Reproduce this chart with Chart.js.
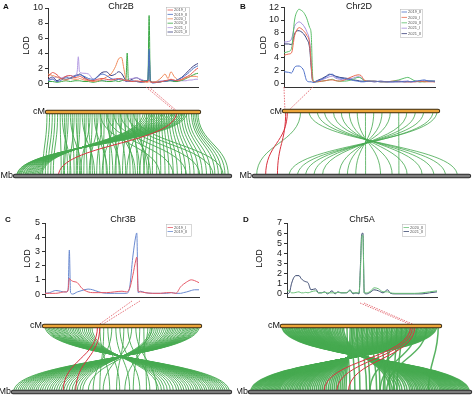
<!DOCTYPE html>
<html>
<head>
<meta charset="utf-8">
<script src="https://cdn.jsdelivr.net/npm/chart.js@4.4.1/dist/chart.umd.min.js"></script>
<style>
  body { margin: 0; background: #fff; }
  #wrap { position: relative; width: 474px; height: 397px; overflow: hidden; }
  canvas { position: absolute; }
</style>
</head>
<body>
<div id="wrap"></div>
<script>
// ---------- LOD profiles (x = position along chromosome, % of axis) ----------
const posA = [0,3,6,9,12,15,18,19.5,20.2,21,24,27,30,33,36,39,42,45,47,49,50.5,52,52.8,53.6,56,59,62,65,66.6,67.4,68.2,70,73,76,78,80,82,84,86,88,90,92,94,96,98,100];
const lodA_2019I  = [0.8,1.4,1.1,0.6,0.9,1.0,0.7,0.8,0.8,0.9, 0.6,0.4,0.3,0.5,0.6,0.5,0.4,0.5,0.6,0.5, 0.4,0.3,0.3,0.3,0.2,0.3,0.2,0.2,0.2,0.4, 0.2,0.1,0.1,0.2,0.3,0.4,0.5,0.4,0.3,0.4, 0.6,0.8,1.0,1.3,1.7,2.0];
const lodA_2019II = [0.3,0.5,0.2,0.4,0.8,0.6,0.9,1.0,1.0,1.1, 0.9,0.6,0.5,0.8,1.2,1.0,0.6,0.4,0.5,0.6, 0.4,0.2,0.2,0.2,0.3,0.2,0.1,0.2,0.5,4.5, 0.3,0.0,0.1,0.2,0.2,0.3,0.4,0.3,0.4,0.6, 0.8,1.1,1.4,1.8,2.1,2.3];
const lodA_2020I  = [1.2,1.0,0.8,0.5,0.4,0.6,0.5,0.5,0.5,0.6, 0.4,0.3,0.2,0.3,0.5,0.8,1.2,2.2,3.2,3.4, 2.0,0.5,0.4,0.3,0.2,0.2,0.1,0.1,0.1,0.2, 0.1,0.1,0.3,0.8,1.2,0.6,1.5,0.9,0.5,0.4, 0.5,0.7,0.8,0.9,0.9,0.8];
const lodA_2020II = [0.2,0.2,0.1,0.2,0.3,0.2,0.3,0.3,0.3,0.3, 0.2,0.2,0.1,0.2,0.3,0.2,0.2,0.3,0.2,0.3, 0.4,0.6,4.0,0.4,0.2,0.2,0.2,0.3,0.3,9.0, 0.4,0.1,0.1,0.2,0.2,0.3,0.3,0.2,0.2,0.3, 0.4,0.6,0.8,1.0,1.2,1.3];
const lodA_2021I  = [0.4,0.6,0.8,0.7,0.9,1.0,0.9,1.6,3.5,1.5, 1.3,1.2,0.5,0.4,0.3,0.4,0.5,0.6,0.5,0.4, 0.3,0.4,0.4,0.5,0.6,0.7,0.5,0.3,0.3,0.5, 0.2,0.1,0.2,0.3,0.2,0.3,0.3,0.2,0.2,0.3, 0.3,0.3,0.4,0.4,0.5,0.5];
const lodA_2021II = [0.5,0.8,0.3,0.6,0.5,0.7,1.0,1.1,1.1,1.2, 0.8,0.4,0.3,0.9,1.4,1.5,1.0,1.2,1.5,1.3, 0.8,0.4,0.4,0.3,0.5,0.7,0.4,0.3,0.3,4.2, 0.3,0.1,0.1,0.2,0.3,0.3,0.4,0.3,0.4,0.6, 0.9,1.3,1.7,2.1,2.4,2.6];

const posB = [0,3,5,7,9,10,11,13,15,17,18,19,20,22,25,28,30,32,34,37,40,43,46,49,51,53,56,60,64,68,72,76,80,82,84,87,90,93,96,100];
const lodB_2019II = [1.8,1.7,1.6,2.5,2.7,2.7,2.6,2.0,0.4,0.2, 0.2,0.1,0.1,0.3,0.6,1.0,1.3,1.4,1.0,0.8, 0.7,0.6,0.4,0.3,0.2,0.2,0.3,0.3,0.2,0.2, 0.2,0.3,0.2,0.3,0.2,0.3,0.4,0.5,0.3,0.3];
const lodB_2020I  = [4.4,4.6,4.8,7.5,8.6,8.8,8.7,8.3,7.6,6.2, 3.0,0.4,0.2,0.2,0.3,0.4,0.5,0.5,0.4,0.3, 0.5,0.8,1.1,1.3,1.2,0.5,0.3,0.3,0.2,0.2, 0.3,0.3,0.2,0.2,0.2,0.2,0.3,0.2,0.2,0.2];
const lodB_2020II = [4.8,5.0,5.5,10.0,11.5,11.7,11.6,11.2,10.3,8.8, 7.8,1.0,0.2,0.2,0.3,0.4,0.5,0.6,0.4,0.3, 0.3,0.4,0.6,0.9,0.8,0.4,0.3,0.3,0.2,0.2, 0.3,0.5,0.8,0.9,0.7,0.3,0.2,0.2,0.3,0.3];
const lodB_2021I  = [6.5,6.6,7.0,9.0,9.6,9.7,9.6,9.1,8.2,6.5, 3.5,0.5,0.2,0.3,0.5,0.8,1.0,1.1,0.8,0.6, 0.5,0.6,0.8,1.0,0.9,0.4,0.3,0.2,0.3,0.2, 0.2,0.2,0.3,0.3,0.2,0.2,0.3,0.4,0.4,0.3];
const lodB_2021II = [6.2,6.2,6.1,7.8,8.3,8.3,8.2,7.8,7.0,5.5, 2.5,0.3,0.2,0.4,0.7,1.1,1.4,1.3,1.1,0.9, 0.8,0.7,0.5,0.4,0.3,0.3,0.3,0.2,0.3,0.2, 0.2,0.2,0.2,0.2,0.2,0.3,0.2,0.3,0.3,0.2];

const posC = [0,3,7,10,12,14,15,15.8,16.6,18,21,24,28,31,35,40,45,50,53,55,57,59,59.6,60.5,62,65,70,75,79,82,85,88,90,92,95,97,100];
const lodC_2019I  = [0.05,0.05,0.05,0.1,0.15,0.15,0.3,1.1,1.0,0.9, 0.8,0.4,0.15,0.1,0.1,0.1,0.15,0.2,0.15,0.4, 1.3,2.4,2.6,0.2,0.15,0.1,0.05,0.05,0.1,0.1, 0.05,0.5,0.7,0.85,1.0,0.95,0.8];
const lodC_2019II = [0.05,0.1,0.25,0.2,0.15,0.15,0.3,3.1,0.1,0.0, 0.15,0.25,0.35,0.3,0.15,0.05,0.05,0.05,0.05,0.5, 2.6,4.1,4.3,0.1,0.2,0.1,0.05,0.05,0.05,0.1, 0.05,0.05,0.1,0.15,0.25,0.3,0.3];

const posD = [0,1.5,3,4.5,6,8,9.5,11,12.5,14,16,19,21,23,25,27,30,32,34,36,38,40,42,44,46,48,49,49.8,50.6,51.5,53,56,58,61,64,67,69,72,76,80,85,90,95,100];
const lodD_2020II = [0.3,0.3,0.1,0.1,0.15,0.2,0.1,0.1,0.15,0.1, 0.2,0.3,0.1,0.1,0.15,0.1,0.1,0.1,0.15,0.1, 0.1,0.15,0.3,0.1,0.1,0.1,2.5,5.6,5.8,0.1, 0.1,0.3,0.6,0.5,0.2,0.2,0.1,0.05,0.05,0.05, 0.05,0.1,0.2,0.3];
const lodD_2021II = [0.0,0.1,1.0,1.6,1.8,1.8,1.5,1.3,1.2,1.1, 0.4,0.5,0.1,0.1,0.2,0.0,0.3,0.0,0.2,0.1, 0.1,0.1,0.4,0.0,0.1,0.0,3.0,5.9,6.0,0.1, 0.0,0.2,0.4,0.3,0.1,0.4,0.05,0.0,0.0,0.0, 0.0,0.0,0.1,0.2];

const ticksA = [0,2,4,6,8,10];
const ticksB = [0,2,4,6,8,10,12];
const ticksC = [0,1,2,3,4,5];
const ticksD = [0,1,2,3,4,5,6,7];

// ---------- collinearity links (cM position % of genetic map, Mb position % of chromosome) ----------
const cmA = [0,1.7,3.5,5.2,7.0,
  8.7,11.4,14.0,16.6,19.2,21.8,24.5,27.1,29.7,32.3,34.9,37.6,40.2,42.8,45.4,48.0,50.7,53.3,55.9,58.5,61.1,
  10.0,12.7,15.3,17.9,20.5,23.1,25.8,28.4,31.0,33.6,36.2,38.9,41.5,44.1,46.7,49.3,52.0,54.6,57.2,59.8,
  63.3,65.9,68.6,71.2,73.8,76.4,79.0,81.7,84.3,86.9,89.5,92.1,
  64.6,67.2,69.9,72.5,75.1,77.7,80.3,83.0,85.6,88.2,90.8,
  65.5,68.8,72.1,75.3,78.6,81.9,85.2,88.4,91.7,95.0,97.2,99.3,
  67.2,70.3,73.6,76.9,80.1,83.4,86.7,90.0,93.2,96.1,98.3,
  34.9,39.3,43.7,48.0,52.4,56.8];
const mbA = [12.9,14.1,15.3,16.6,17.8,
  21.5,24.5,23.0,27.5,30.0,29.0,33.5,36.0,35.0,39.5,42.5,41.0,45.5,48.5,47.0,51.5,55.0,53.5,58.0,61.5,60.0,
  26.0,22.5,31.0,25.5,28.5,37.0,32.0,30.5,43.0,34.5,38.0,49.0,44.0,40.5,56.0,46.5,50.0,63.0,57.0,52.0,
  12.4,11.3,10.1,9.0,7.9,6.8,5.7,4.7,3.6,2.5,1.6,0.8,
  11.8,10.7,9.5,8.4,7.3,6.2,5.1,4.0,2.9,2.0,1.1,
  58.1,62.0,65.9,69.8,73.6,77.5,81.4,85.3,89.1,93.0,96.1,99.2,
  60.0,63.9,67.8,71.6,75.5,79.4,83.3,87.1,91.0,94.6,97.7,
  67.4,73.6,79.8,86.0,92.2,96.9];
const redCmA = [85.2], redMbA = [20.2];
const qtlLodA = [65.1, 67.1], qtlCmA = [84.9, 86.2];

const cmB = [10.8,16.2,21.6,26.3,32.0,37.1,42.3,47.5,52.9,58.3,63.7,69.1,74.5,79.9,85.3,90.7,96.8,99.4];
const mbB = [1.2,94.6,89.1,83.7,78.3,71.3,64.3,58.9,51.9,47.3,43.4,39.5,67.4,31.8,27.9,24.0,20.2,16.3];
const redCmB = [1.1, 2.2], redMbB = [10.9, 5.4];
const qtlLodB = [0, 18.8], qtlCmB = [0.6, 2.6];

const cmC = [0.6,2.4,4.1,5.8,7.5,9.2,10.9,12.6,14.3,16.5,18.6,20.8,22.9,25.5,28.1,30.6,
  1.5,3.2,4.9,6.6,8.4,10.1,11.8,13.5,15.4,17.6,19.7,21.8,24.2,26.8,29.3,
  99.6,97.9,96.1,94.4,92.7,91.0,89.3,87.2,85.0,82.9,80.7,78.6,76.0,73.4,70.9,68.3,
  98.7,97.0,95.3,93.6,91.9,90.1,88.2,86.1,83.9,81.8,79.7,77.3,74.7,72.2,69.6,
  35.8,38.3,40.9,43.5,46.0,48.6,51.2,53.7,56.3,58.8,61.4,64.0,66.6,69.2];
const mbC = [99.7,97.8,96.0,94.2,92.3,90.5,88.5,86.5,84.5,82.3,80.0,77.7,75.4,72.6,69.8,67.1,
  98.8,96.9,95.1,93.2,91.4,89.4,87.4,85.4,83.4,81.1,78.8,76.5,74.0,71.2,68.5,
  0.3,2.2,4.0,5.8,7.7,9.5,11.4,13.5,15.7,17.8,20.0,22.2,24.6,27.1,29.5,32.0,
  1.2,3.1,4.9,6.8,8.6,10.5,12.5,14.6,16.8,18.9,21.1,23.4,25.8,28.3,30.8,
  44.6,40.0,49.2,36.9,53.8,58.5,47.7,63.1,41.5,66.2,55.4,61.5,51.5,34.6];
const redCmC = [34.3, 35.8], redMbC = [23.1, 28.9];
const qtlLodC = [56.4, 61.5], qtlCmC = [34.0, 35.9];

const cmD = [97.9,96.2,94.5,92.8,91.2,89.5,87.8,86.1,84.4,82.7,81.1,79.4,77.7,76.0,74.3,72.6,70.5,68.4,66.3,64.2,62.1,60.0,57.9,55.8,53.7,51.6,49.5,47.4,45.3,43.2,
  97.1,95.4,93.7,92.0,90.3,88.6,86.9,85.3,83.6,81.9,80.2,78.5,76.8,75.2,73.5,71.6,69.5,67.4,65.3,63.2,61.1,58.9,56.8,54.7,52.6,50.5,48.4,46.3,44.2,
  0,1.5,2.9,4.4,5.9,7.4,8.8,10.3,11.8,13.3,14.7,16.2,17.7,19.2,20.6,22.1,23.8,25.5,27.2,28.8,30.5,32.6,34.7,36.8,38.9,
  0.6,2.1,3.6,5.1,6.5,8.0,9.5,10.9,12.4,13.9,15.4,16.8,18.3,19.8,21.3,23.0,24.6,26.3,28.0,29.7,31.6,33.7,35.8,37.9,
  41.1,44.2,47.4,50.5,53.7,56.8,60.0,63.2,66.3,69.5,72.6,75.8,78.9,85.3,91.6,
  98.9];
const mbD = [0.3,1.5,2.7,3.9,5.2,6.4,7.6,8.8,10.0,11.2,12.4,13.6,15.2,16.7,18.2,19.7,21.2,22.7,24.2,25.8,27.3,29.1,30.9,32.7,34.5,36.4,38.2,40.0,41.8,43.6,
  0.9,2.1,3.3,4.5,5.8,7.0,8.2,9.4,10.6,11.8,13.0,14.4,15.9,17.4,18.9,20.5,22.0,23.5,25.0,26.5,28.2,30.0,31.8,33.6,35.5,37.3,39.1,40.9,42.7,
  99.7,98.5,97.3,96.1,94.8,93.6,92.4,91.2,90.0,88.8,87.6,86.4,84.8,83.3,81.8,80.3,78.8,77.3,75.8,74.2,72.7,70.5,68.2,65.9,63.6,
  99.1,97.9,96.7,95.5,94.2,93.0,91.8,90.6,89.4,88.2,87.0,85.6,84.1,82.6,81.1,79.5,78.0,76.5,75.0,73.5,71.5,69.2,67.0,64.7,
  45.5,47.7,50.0,53.0,54.5,57.6,59.1,61.4,63.6,60.6,65.2,66.7,54.5,59.1,62.1,
  81.1];
const redCmD = [81.5, 82.7, 84.2], redMbD = [33.6, 39.4, 44.7];
const qtlLodD = [49.4, 51.9], qtlCmD = [83.5, 85.4];

// ---------- helpers ----------
const FONT = "'Liberation Sans', Arial, sans-serif";
Chart.defaults.font.family = FONT;
Chart.defaults.color = '#222';
const wrap = document.getElementById('wrap');

function addCanvas(left, top, w, h) {
  const cv = document.createElement('canvas');
  cv.width = w; cv.height = h;
  cv.style.left = left + 'px'; cv.style.top = top + 'px';
  cv.style.width = w + 'px'; cv.style.height = h + 'px';
  wrap.appendChild(cv);
  return cv;
}

function lodChart(p) {
  const cv = addCanvas(p.left, p.top, p.w, p.h);
  const texts = {
    id: 'texts',
    afterDraw(chart) {
      const c = chart.ctx, ys = chart.scales.y;
      c.save();
      c.fillStyle = '#111';
      c.textBaseline = 'middle';
      c.textAlign = 'left';
      c.font = 'bold 8px ' + FONT;
      c.fillText(p.letter, p.letterX, p.titleY);
      c.font = '9px ' + FONT;
      c.textAlign = 'center';
      c.fillText(p.title, p.titleX, p.titleY);
      const yMid = (ys.getPixelForValue(0) + ys.getPixelForValue(p.ticks[p.ticks.length - 1])) / 2;
      c.save();
      c.translate(p.lodX, yMid);
      c.rotate(-Math.PI / 2);
      c.font = '9px ' + FONT;
      c.fillText('LOD', 0, 0);
      c.restore();
      // legend box
      const L = p.legend;
      c.strokeStyle = '#b0b0b0'; c.lineWidth = 0.5;
      c.strokeRect(L.x + 0.5, L.y + 0.5, L.w, L.h);
      c.font = '4px ' + FONT;
      c.textAlign = 'left';
      chart.data.datasets.forEach((ds, i) => {
        const y = L.y + L.first + i * L.step;
        c.strokeStyle = ds.borderColor; c.lineWidth = 0.8;
        c.beginPath(); c.moveTo(L.x + 1.5, y); c.lineTo(L.x + 7, y); c.stroke();
        c.fillStyle = '#555';
        c.fillText(ds.label, L.x + 8, y);
      });
      c.restore();
    }
  };
  return new Chart(cv, {
    type: 'line',
    data: {
      datasets: p.series.map(s => ({
        label: s.label,
        data: p.pos.map((x, i) => ({ x: x, y: s.data[i] })),
        borderColor: s.color,
        borderWidth: 1,
        pointRadius: 0,
        tension: 0.4,
        cubicInterpolationMode: 'monotone',
        fill: false
      }))
    },
    options: {
      responsive: false,
      animation: false,
      devicePixelRatio: 1,
      layout: { padding: p.pad },
      plugins: { legend: { display: false }, tooltip: { enabled: false } },
      scales: {
        x: {
          type: 'linear', min: 0, max: 100,
          grid: { display: false },
          border: { display: true, color: '#333', width: 1 },
          ticks: { display: false },
          afterFit: s => { s.height = 0; }
        },
        y: {
          min: p.yMin, max: p.yMax,
          grid: { display: true, drawOnChartArea: false, drawTicks: true, tickLength: 3, color: '#333' },
          border: { display: true, color: '#333', width: 1 },
          ticks: { font: { size: 9 }, color: '#222', padding: 2, autoSkip: false },
          afterBuildTicks: s => { s.ticks = p.ticks.map(v => ({ value: v })); },
          afterFit: s => { s.width = p.yW; }
        }
      }
    },
    plugins: [texts]
  });
}

function linkChart(p) {
  const cv = addCanvas(p.left, p.top, p.w, p.h);
  const links = {
    id: 'links',
    beforeDatasetsDraw(chart) {
      const c = chart.ctx, xc = chart.scales.xc, xm = chart.scales.xm, y = chart.scales.y;
      const yC = y.getPixelForValue(1), yM = y.getPixelForValue(0), yT = y.getPixelForValue(p.yTop);
      const ymid = (yC + yM) / 2;
      const draw = (cm, mb, color, width) => {
        c.strokeStyle = color; c.lineWidth = width;
        cm.forEach((v, i) => {
          const x0 = xc.getPixelForValue(v), x1 = xm.getPixelForValue(mb[i]);
          c.beginPath();
          c.moveTo(x0, yC);
          c.bezierCurveTo(x0, ymid, x1, ymid, x1, yM);
          c.stroke();
        });
      };
      c.save();
      draw(p.cm, p.mb, 'rgba(70,170,80,0.9)', p.lw);
      draw(p.redCm, p.redMb, '#d8323f', 1);
      // QTL interval projected from LOD axis to genetic map
      c.strokeStyle = '#e0505a'; c.lineWidth = 0.8; c.setLineDash([1.5, 1.2]);
      p.qtlLod.forEach((v, i) => {
        c.beginPath();
        c.moveTo(xc.getPixelForValue(v), yT);
        c.lineTo(xc.getPixelForValue(p.qtlCm[i]), yC);
        c.stroke();
      });
      c.restore();
    },
    afterDatasetsDraw(chart) {
      const c = chart.ctx, xc = chart.scales.xc, xm = chart.scales.xm, y = chart.scales.y;
      c.save();
      c.fillStyle = '#111';
      c.font = '9px ' + FONT;
      c.textAlign = 'right';
      c.textBaseline = 'middle';
      c.fillText('cM', xc.getPixelForValue(0) - 2, y.getPixelForValue(1));
      c.fillText('Mb', xm.getPixelForValue(0) - 2, y.getPixelForValue(0));
      c.restore();
    }
  };
  const bar = (axis, yv, color, width) => ({
    data: [{ x: 0, y: yv }, { x: 100, y: yv }],
    xAxisID: axis,
    borderColor: color,
    borderWidth: width,
    borderCapStyle: 'round',
    pointRadius: 0,
    clip: false
  });
  // Chart.js paints the first dataset last, so each fill comes before its outline
  return new Chart(cv, {
    type: 'line',
    data: {
      datasets: [
        bar('xm', 0, '#7d7d7d', 2.4),
        bar('xm', 0, '#2e2e2e', 4.4),
        bar('xc', 1, '#eca53a', 2.4),
        bar('xc', 1, '#3a2c14', 4.4)
      ]
    },
    options: {
      responsive: false,
      animation: false,
      devicePixelRatio: 1,
      layout: { padding: p.pad },
      plugins: { legend: { display: false }, tooltip: { enabled: false } },
      scales: {
        xm: { type: 'linear', axis: 'x', min: 0, max: 100, display: false },
        xc: { type: 'linear', axis: 'x', min: p.cmMin, max: p.cmMax, display: false },
        y: { type: 'linear', min: 0, max: p.yTop, display: false }
      }
    },
    plugins: [links]
  });
}

// ---------- panel A: Chr2B ----------
lodChart({
  left: 0, top: 0, w: 237, h: 95, pad: { left: 0, right: 39, top: 8, bottom: 8 },
  yW: 48, yMin: -0.53, yMax: 10, ticks: ticksA, pos: posA,
  letter: 'A', letterX: 3, title: 'Chr2B', titleX: 121, titleY: 7, lodX: 27,
  legend: { x: 166, y: 7, w: 23, h: 28, first: 3, step: 4.4 },
  series: [
    { label: '2019_I',  data: lodA_2019I,  color: '#e5584f' },
    { label: '2019_II', data: lodA_2019II, color: '#4d70c4' },
    { label: '2020_I',  data: lodA_2020I,  color: '#f08a5a' },
    { label: '2020_II', data: lodA_2020II, color: '#3aa845' },
    { label: '2021_I',  data: lodA_2021I,  color: '#b49ce2' },
    { label: '2021_II', data: lodA_2021II, color: '#3b3f80' }
  ]
});
linkChart({
  left: 0, top: 85, w: 237, h: 100, pad: { left: 15, right: 7, top: 2, bottom: 9 },
  yTop: 1.39, cmMin: -21.05, cmMax: 120.39, lw: 1,
  cm: cmA, mb: mbA, redCm: redCmA, redMb: redMbA, qtlLod: qtlLodA, qtlCm: qtlCmA
});

// ---------- panel B: Chr2D ----------
lodChart({
  left: 237, top: 0, w: 237, h: 95, pad: { left: 0, right: 39, top: 6, bottom: 8 },
  yW: 47, yMin: -0.625, yMax: 12, ticks: ticksB, pos: posB,
  letter: 'B', letterX: 3, title: 'Chr2D', titleX: 122, titleY: 7, lodX: 27,
  legend: { x: 163, y: 9, w: 22, h: 28, first: 3, step: 5.4 },
  series: [
    { label: '2019_II', data: lodB_2019II, color: '#4d6fc8' },
    { label: '2020_I',  data: lodB_2020I,  color: '#e8694f' },
    { label: '2020_II', data: lodB_2020II, color: '#5cbf6a' },
    { label: '2021_I',  data: lodB_2021I,  color: '#a48ddb' },
    { label: '2021_II', data: lodB_2021II, color: '#3a3f7a' }
  ]
});
linkChart({
  left: 237, top: 85, w: 237, h: 100, pad: { left: 17, right: 5, top: 2, bottom: 9 },
  yTop: 1.37, cmMin: -19.48, cmMax: 120.13, lw: 0.9,
  cm: cmB, mb: mbB, redCm: redCmB, redMb: redMbB, qtlLod: qtlLodB, qtlCm: qtlCmB
});

// ---------- panel C: Chr3B ----------
lodChart({
  left: 0, top: 200, w: 237, h: 105, pad: { left: 0, right: 38, top: 23, bottom: 4 },
  yW: 45, yMin: -0.25, yMax: 5, ticks: ticksC, pos: posC,
  letter: 'C', letterX: 5, title: 'Chr3B', titleX: 123, titleY: 20, lodX: 28,
  legend: { x: 166, y: 24, w: 25, h: 12, first: 3.5, step: 4 },
  series: [
    { label: '2019_I',  data: lodC_2019I,  color: '#e65a68' },
    { label: '2019_II', data: lodC_2019II, color: '#6a8ad0' }
  ]
});
linkChart({
  left: 0, top: 298, w: 237, h: 99, pad: { left: 13, right: 7, top: 3, bottom: 5 },
  yTop: 1.379, cmMin: -19.87, cmMax: 119.23, lw: 1,
  cm: cmC, mb: mbC, redCm: redCmC, redMb: redMbC, qtlLod: qtlLodC, qtlCm: qtlCmC
});

// ---------- panel D: Chr5A ----------
lodChart({
  left: 237, top: 200, w: 237, h: 105, pad: { left: 0, right: 37, top: 23, bottom: 2 },
  yW: 50, yMin: -0.37, yMax: 7, ticks: ticksD, pos: posD,
  letter: 'D', letterX: 6, title: 'Chr5A', titleX: 125, titleY: 20, lodX: 23,
  legend: { x: 165, y: 24, w: 23, h: 12, first: 3.5, step: 4 },
  series: [
    { label: '2020_II', data: lodD_2020II, color: '#6cc07a' },
    { label: '2021_II', data: lodD_2021II, color: '#3c4a70' }
  ]
});
linkChart({
  left: 237, top: 301, w: 237, h: 96, pad: { left: 13, right: 4, top: 2, bottom: 5 },
  yTop: 1.348, cmMin: -20.25, cmMax: 118.99, lw: 1.5,
  cm: cmD, mb: mbD, redCm: redCmD, redMb: redMbD, qtlLod: qtlLodD, qtlCm: qtlCmD
});
</script>
</body>
</html>
